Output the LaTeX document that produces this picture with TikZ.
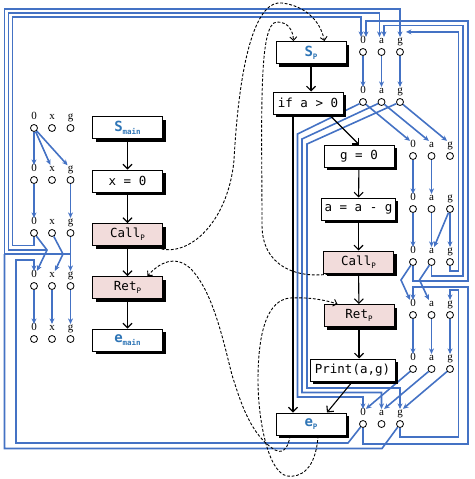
\documentclass[tikz,border=0pt]{standalone}
\usepackage{fontspec}
\setmonofont{DejaVu Sans Mono}
\newfontfamily\factfont{Liberation Serif}
\usetikzlibrary{arrows.meta,shadows}

\definecolor{flowblue}{RGB}{68,114,196}
\definecolor{nameblue}{RGB}{46,117,182}
\definecolor{callpink}{RGB}{242,220,219}
\newcommand{\lowsub}[1]{\raisebox{-0.4ex}{\fontsize{7.5}{8}\selectfont #1}}
\newcommand{\blockname}[2]{\textcolor{nameblue}{\bfseries\fontsize{14}{14}\selectfont #1\lowsub{#2}}}

\begin{document}
\begin{tikzpicture}[x=1pt,y=-1pt]
    % Styles
    \tikzset{
        stmt/.style={draw, line width=1pt, fill=white, minimum width=70pt, minimum height=22pt, inner xsep=3pt, font=\fontsize{12.5}{14}\selectfont\ttfamily, drop shadow={shadow xshift=3pt, shadow yshift=-3pt, fill=black, opacity=1}},
        callstmt/.style={stmt, fill=callpink},
        fact/.style={circle, draw, line width=0.8pt, fill=white, minimum size=7pt, inner sep=0pt},
        factname/.style={inner sep=0pt, text height=6.8pt, text depth=0pt, font=\fontsize{11}{11}\factfont},
        cflow/.style={line width=1.1pt, -{Straight Barb[length=4.5pt,width=9pt]}},
        flow/.style={draw=flowblue, line width=1.6pt, -{Stealth[length=5.5pt,width=5pt]}},
        bus/.style={draw=flowblue, line width=1.6pt},
        callret/.style={line width=0.9pt, dash pattern=on 2.8pt off 1.8pt, -{Straight Barb[length=3.5pt,width=7pt]}}
    }

    \useasboundingbox (0,0) rectangle (474,479);

    % Facts of main
    \foreach \row/\fy in {1/128,2/180,3/233,4/286,5/339}
        \foreach \fv/\fx in {0/34,x/52,g/70.5} {
            \node[factname] (lm\row-\fv) at (\fx,\fy-11.5) {\fv};
            \node[fact] (m\row-\fv) at (\fx,\fy) {};
        }

    % Facts of P
    \foreach \row/\fy/\cx in {1/52/363,2/102/363,3/156/413,4/209/413,5/262/413,6/315/413,7/369/413,8/424/363}
        \foreach \fv/\dx in {0/0,a/18.5,g/37} {
            \node[factname] (lp\row-\fv) at (\cx+\dx,\fy-11.5) {\fv};
            \node[fact] (p\row-\fv) at (\cx+\dx,\fy) {};
        }

    % Edges inside main
    \foreach \fv in {0,x,g}
        \draw[flow] (m1-0) -- (lm2-\fv);
    \foreach \fv in {0,g}
        \draw[flow] (m2-\fv) -- (lm3-\fv);
    \draw[flow] (m3-g) -- (lm4-g);
    \foreach \fv in {0,x,g}
        \draw[flow] (m4-\fv) -- (lm5-\fv);

    % Call-to-return in main
    \coordinate (kink0) at (47,250);
    \coordinate (kinkx) at (63,254);
    \draw[flow] (m3-0) -- (kink0) -- (lm4-0.north east);
    \draw[flow] (m3-x) -- (kinkx) -- (lm4-x.north east);

    % Call main -> S_P
    \draw[flow] (m3-0.south) |- (12.5,245.5) |- (361,17) -- ([xshift=-2pt]lp1-0.north);
    \draw[flow] (kink0) -- (8.5,250) |- (379.5,13) -- ([xshift=-2pt]lp1-a.north);
    \draw[flow] (m3-g.south) |- (4.5,254) |- (400,9) -- (lp1-g.north);

    % Return e_P -> main
    \draw[flow] (p8-0) -- (348,443) -- (16,443) |- (34,260) -- (lm4-0.north);
    \draw[bus] (p8-g) -- (382,448.5) -| (4.5,254);

    % Edges inside P
    \foreach \fv in {0,a,g}
        \draw[flow] (p1-\fv) -- (lp2-\fv);
    \foreach \fv in {0,a,g}
        \draw[flow] (p2-\fv) -- (lp3-\fv.north west);
    \foreach \fv in {0,a}
        \draw[flow] (p3-\fv) -- (lp4-\fv);
    \foreach \fv in {0,a,g}
        \draw[flow] (p4-\fv) -- (lp5-\fv);
    \draw[flow] (p4-g) -- (lp5-a.north east);
    \foreach \fv in {0,a,g}
        \draw[flow] (p6-\fv) -- (lp7-\fv);
    \foreach \fv in {0,a,g}
        \draw[flow] (p7-\fv) -- (lp8-\fv.north east);

    % Branch if -> e_P
    \draw[flow] (p2-0) -- (297.5,134) |- (363,397) -- (lp8-0.north);
    \draw[flow] (p2-a) -- (302,139) |- (381.5,392.5) -- (lp8-a.north);
    \draw[flow] (p2-g) -- (307,144) |- (400,388) -- (lp8-g.north);

    % Call-to-return in P
    \coordinate (kinkp0) at (401,280);
    \coordinate (kinkpa) at (419.5,280);
    \draw[flow] (p5-0) -- (kinkp0) -- (lp6-0.north west);
    \draw[flow] (p5-a) -- (kinkpa) -- (lp6-a.north west);

    % Call P -> S_P
    \draw[flow] (p5-0.south) |- (468,281) |- (366,21) -- ([xshift=3pt]lp1-0.north);
    \draw[flow] (p5-a.south) |- (463,276) |- (384,25.5) -- ([xshift=2.5pt]lp1-a.north);
    \draw[flow] (p5-g.south) |- (458.5,271) |- ([xshift=3pt,yshift=5pt]lp1-g.north east);

    % Return e_P -> P
    \draw[flow] (p8-0.south) |- (468,444) |- (413,287) -- (lp6-0.north);
    \draw[flow] (p8-g.south) |- (458.5,437) |- (450,290) -- (lp6-g.north);

    % Statements of main
    \node[stmt] (sm) at (127.5,127.5) {\blockname{S}{main}};
    \node[stmt] (xz) at (127.5,181) {x = 0};
    \node[callstmt] (callm) at (127.5,234.5) {Call\lowsub{P}};
    \node[callstmt] (retm) at (127.5,287.5) {Ret\lowsub{P}};
    \node[stmt] (em) at (127.5,340) {\blockname{e}{main}};

    % Statements of P
    \node[stmt] (sp) at (311,52.5) {\blockname{S}{P}};
    \node[stmt] (ifp) at (308,103) {if a > 0};
    \node[stmt] (gz) at (359,156) {g = 0};
    \node[stmt] (aag) at (358.5,209) {a = a - g};
    \node[callstmt] (callp) at (358.5,262) {Call\lowsub{P}};
    \node[callstmt] (retp) at (359,315.5) {Ret\lowsub{P}};
    \node[stmt, minimum width=85pt] (prt) at (352.5,370) {Print(a,g)};
    \node[stmt] (ep) at (311,424) {\blockname{e}{P}};

    % Control flow
    \foreach \from/\to in {sm/xz, xz/callm, callm/retm, retm/em, gz/aag, aag/callp, callp/retp}
        \draw[cflow] (\from) -- (\to);
    \draw[cflow] (sp.south) -- (sp.south |- ifp.north);
    \draw[cflow] ([xshift=21pt]ifp.south) -- (gz.north);
    \draw[cflow] ([xshift=-15pt]ifp.south) -- ([xshift=-18pt]ep.north);
    \draw[cflow] (retp.south) -- (retp.south |- prt.north);
    \draw[cflow] (prt.south) -- ([xshift=16pt]ep.north);

    % Call and return edges
    \draw[callret] ([xshift=-10pt]callm.south east) .. controls (185,262) and (228,225) .. (234,160)
        .. controls (240,50) and (258,0) .. (282,3) .. controls (305,6) and (320,20) .. ([xshift=-22pt]sp.north east);
    \draw[callret] ([xshift=10pt]callp.south west) .. controls (295,280) and (262,265) .. (262,225)
        .. controls (262,120) and (258,22) .. (277,22) .. controls (288,22) and (293,30) .. ([xshift=18pt]sp.north west);
    \draw[callret] ([xshift=-21pt]ep.south) .. controls (288,452) and (280,453) .. (275,450)
        .. controls (250,435) and (240,400) .. (232,375) .. controls (222,335) and (212,290) .. (190,268)
        .. controls (175,255) and (160,262) .. ([xshift=20pt]retm.north);
    \draw[callret] ([xshift=7pt]ep.south) .. controls (316,470) and (300,478) .. (287,476)
        .. controls (268,472) and (258,420) .. (258,380) .. controls (258,330) and (268,300) .. (290,298)
        .. controls (310,297) and (325,300) .. ([xshift=14pt]retp.north west);

\end{tikzpicture}
\end{document}
